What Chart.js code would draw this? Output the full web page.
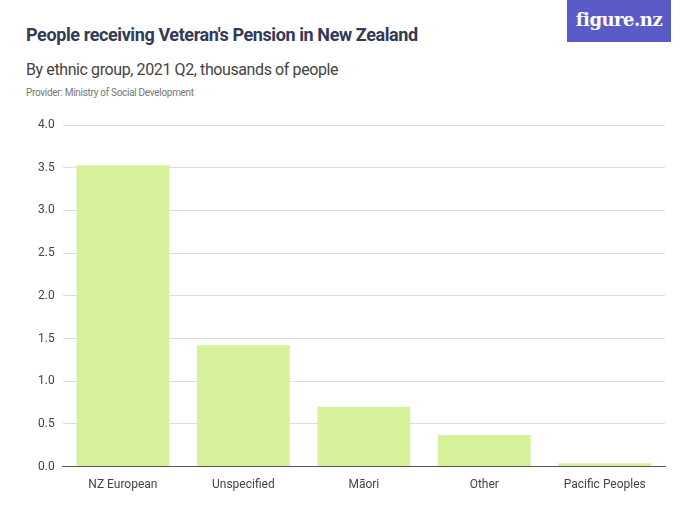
<!DOCTYPE html>
<html lang="en">
<head>
<meta charset="utf-8">
<title>People receiving Veteran's Pension in New Zealand</title>
<script src="https://cdn.jsdelivr.net/npm/chart.js@4/dist/chart.umd.min.js"></script>
<style>
  body { margin: 0; background: #fff; font-family: "Roboto", sans-serif; }
  .wrap { position: relative; width: 700px; height: 525px; }
  h1 { position: absolute; left: 26px; top: 24px; margin: 0; font-size: 18px; font-weight: bold; color: #333a56; letter-spacing: -0.4px; }
  .sub { position: absolute; left: 26px; top: 60px; font-size: 16px; color: #444; letter-spacing: -0.4px; }
  .prov { position: absolute; left: 26px; top: 87px; font-size: 10px; color: #777; letter-spacing: -0.3px; }
  .logo { position: absolute; left: 567px; top: 0; width: 104px; height: 42px; background: #5b5bc8; color: #fff;
          font-family: "DejaVu Serif", serif; font-weight: bold; font-size: 18px; text-align: center; line-height: 40px; letter-spacing: -0.5px; }
  .chart { position: absolute; left: 0; top: 100px; width: 700px; height: 425px; }
</style>
</head>
<body>
<div class="wrap">
  <h1>People receiving Veteran's Pension in New Zealand</h1>
  <div class="sub">By ethnic group, 2021 Q2, thousands of people</div>
  <div class="prov">Provider: Ministry of Social Development</div>
  <div class="logo">figure.nz</div>
  <div class="chart"><canvas id="myChart"></canvas></div>
</div>
<script>
  const groups = ['NZ European', 'Unspecified', 'Māori', 'Other', 'Pacific Peoples'];
  const people = [3.53, 1.42, 0.70, 0.37, 0.04];

  const ctx = document.getElementById('myChart').getContext('2d');
  new Chart(ctx, {
    type: 'bar',
    data: {
      labels: groups,
      datasets: [{
        data: people,
        backgroundColor: '#d5f29a',
        barPercentage: 0.77,
        categoryPercentage: 1
      }]
    },
    options: {
      responsive: true,
      maintainAspectRatio: false,
      animation: false,
      layout: { padding: { top: 25, right: 35, left: 30, bottom: 30 } },
      plugins: { legend: { display: false }, tooltip: { enabled: false } },
      scales: {
        x: {
          grid: { display: false },
          border: { color: '#555' },
          ticks: { color: '#444', font: { family: 'Roboto, sans-serif', size: 12 } }
        },
        y: {
          min: 0, max: 4,
          ticks: { stepSize: 0.5, color: '#444', padding: 8,
                   callback: v => v.toFixed(1),
                   font: { family: 'Roboto, sans-serif', size: 12 } },
          grid: { color: '#ddd', drawTicks: false },
          border: { display: false }
        }
      }
    }
  });
</script>
</body>
</html>
